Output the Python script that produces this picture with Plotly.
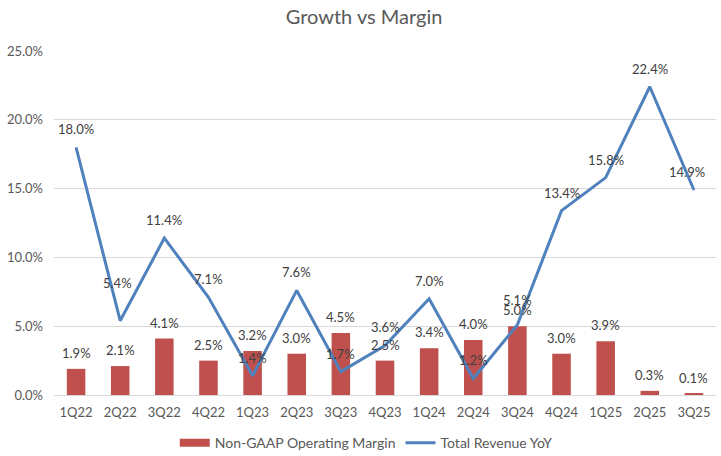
import plotly.graph_objects as go

quarters = ["1Q22", "2Q22", "3Q22", "4Q22", "1Q23", "2Q23", "3Q23", "4Q23",
            "1Q24", "2Q24", "3Q24", "4Q24", "1Q25", "2Q25", "3Q25"]
op_margin = [1.9, 2.1, 4.1, 2.5, 3.2, 3.0, 4.5, 2.5, 3.4, 4.0, 5.0, 3.0, 3.9, 0.3, 0.1]
rev_yoy = [18.0, 5.4, 11.4, 7.1, 1.4, 7.6, 1.7, 3.6, 7.0, 1.2, 5.1, 13.4, 15.8, 22.4, 14.9]

BAR_COLOR = "#C0504D"
LINE_COLOR = "#4F81BD"
TEXT = "#404040"
AXIS_TEXT = "#595959"
FONT = "Lato, Open Sans, sans-serif"

# label offsets (pixels) for line labels that Excel moved
line_yshift = {1: 38, 10: 25}
line_xshift = {1: -3, 14: -7}

fig = go.Figure()
fig.add_trace(go.Bar(x=quarters, y=op_margin, name="Non-GAAP Operating Margin",
                     marker=dict(color=BAR_COLOR, line=dict(width=0)), width=0.42,
                     showlegend=False))
# legend proxy for the bars (wide rectangle swatch like Excel)
fig.add_trace(go.Scatter(x=[None], y=[None], mode="lines", name="Non-GAAP Operating Margin",
                         line=dict(color=BAR_COLOR, width=8)))
fig.add_trace(go.Scatter(x=quarters, y=rev_yoy, name="Total Revenue YoY", mode="lines",
                         line=dict(color=LINE_COLOR, width=3)))

ann = []
for i, (q, v) in enumerate(zip(quarters, op_margin)):
    ann.append(dict(x=q, y=v, text=f"{v:.1f}%", showarrow=False, yshift=16,
                    font=dict(size=13, color=TEXT, family=FONT)))
for i, (q, v) in enumerate(zip(quarters, rev_yoy)):
    ann.append(dict(x=q, y=v, text=f"{v:.1f}%", showarrow=False,
                    yshift=line_yshift.get(i, 18), xshift=line_xshift.get(i, 0),
                    font=dict(size=13, color=TEXT, family=FONT)))

fig.update_layout(
    width=721, height=456,
    margin=dict(l=54, r=5, t=51, b=61, autoexpand=False),
    paper_bgcolor="white", plot_bgcolor="white",
    font=dict(family=FONT, size=13, color=AXIS_TEXT),
    title=dict(text="Growth vs Margin", x=0.505, xanchor="center", y=0.962, yanchor="middle",
               font=dict(size=20, color=AXIS_TEXT, family=FONT)),
    showlegend=True,
    legend=dict(orientation="h", xref="container", yref="container",
                x=0.508, xanchor="center", y=0.028, yanchor="middle",
                font=dict(size=14, color=AXIS_TEXT, family=FONT), traceorder="normal",
                itemwidth=30, tracegroupgap=0),
    annotations=ann,
)
fig.update_xaxes(type="category", showgrid=False, showline=False, ticks="",
                 tickfont=dict(size=13, color=AXIS_TEXT), ticklabelstandoff=8)
fig.update_yaxes(range=[0, 25], dtick=5, ticksuffix="%", tickformat=".1f",
                 showgrid=True, gridcolor="#D9D9D9", gridwidth=1, zeroline=True,
                 zerolinecolor="#D9D9D9", zerolinewidth=1, showline=False,
                 tickfont=dict(size=13, color=AXIS_TEXT), ticklabelstandoff=10)

fig.write_html("out.html")
